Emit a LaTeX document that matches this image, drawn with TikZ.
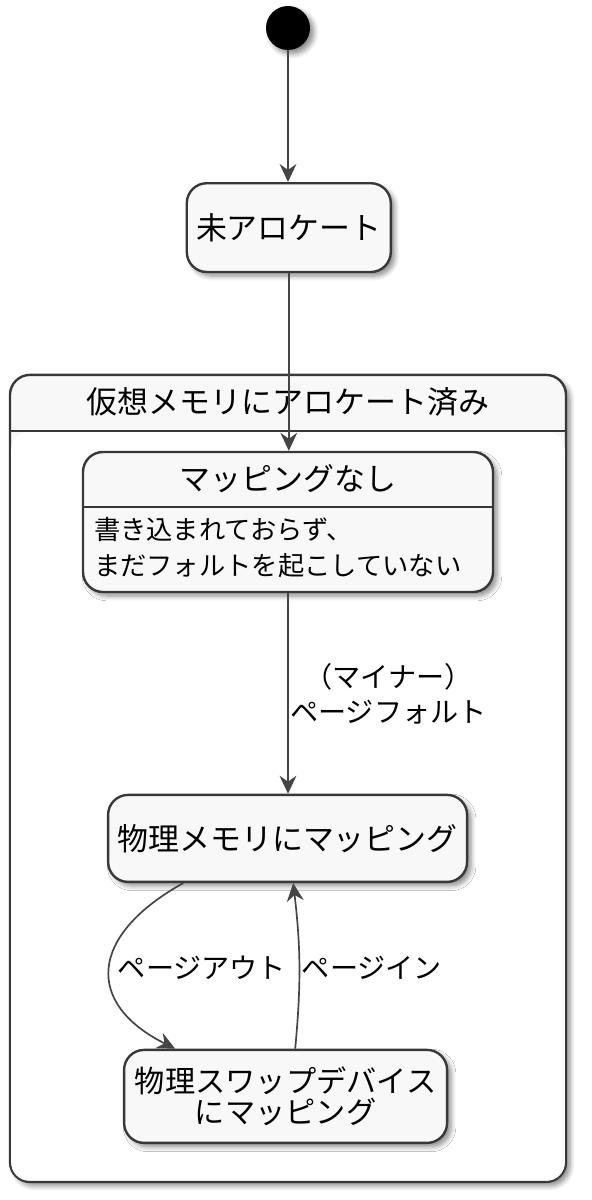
\documentclass[tikz,border=0pt]{standalone}
\usepackage{fontspec}
\setmainfont{Noto Sans CJK JP}
\usetikzlibrary{arrows.meta,shadows.blur,calc}
\definecolor{bordergray}{HTML}{383838}
\definecolor{arrowgray}{HTML}{454545}
\definecolor{boxfill}{HTML}{F8F8F8}

\begin{document}
\begin{tikzpicture}[
    shade/.style={blur shadow={shadow xshift=0.1cm, shadow yshift=-0.1cm, shadow blur radius=0.12cm, shadow blur steps=6, shadow opacity=45}},
    stbox/.style={draw=bordergray, line width=1.7pt, fill=boxfill, rounded corners=0.5cm, shade,
      font=\fontsize{22}{22}\selectfont, align=center, inner sep=0pt},
    edge/.style={draw=arrowgray, line width=1.2pt, -{Stealth[length=0.45cm, width=0.42cm, inset=0.15cm]}},
    lbl/.style={font=\fontsize{20}{25}\selectfont, align=center, inner sep=1pt}
  ]
			\useasboundingbox (0,0) rectangle (14.775,-30);
			% composite state
			\node[stbox, minimum width=13.9cm, minimum height=20.175cm] (alloc) at (7.2,-19.46) {};
			\fill[white, rounded corners=0.45cm] ($(alloc.north west)+(0.06,-1.45)$) rectangle ($(alloc.south east)+(-0.06,0.06)$);
			\draw[bordergray, line width=1.7pt] ($(alloc.north west)+(0,-1.425)$) -- ($(alloc.north east)+(0,-1.425)$);
			\node[font=\fontsize{22}{22}\selectfont] (alloctitle) at ($(alloc.north)+(0,-0.71)$) {仮想メモリにアロケート済み};
			% states
			\node[circle, fill=black, minimum size=1.1cm, inner sep=0pt, shade] (init) at (7.2,-0.7) {};
			\node[stbox, minimum width=5.1cm, minimum height=2.22cm] (unalloc) at (7.22,-5.69) {未アロケート};
			\node[stbox, minimum width=10.25cm, minimum height=3.5cm] (nomap) at (7.2,-13.05) {};
			\draw[bordergray, line width=1.7pt] ($(nomap.north west)+(0,-1.4)$) -- ($(nomap.north east)+(0,-1.4)$);
			\node[font=\fontsize{22}{22}\selectfont] (nomaptitle) at ($(nomap.north)+(0,-0.7)$) {マッピングなし};
			\node[anchor=west, align=left, inner sep=0pt, font=\fontsize{18.7}{25.6}\selectfont] (nomapbody)
			  at ($(nomap.west)+(0.3,-0.65)$) {書き込まれておらず、\\まだフォルトを起こしていない};
			\node[stbox, minimum width=8.975cm, minimum height=2.175cm] (physmem) at (7.19,-20.96) {物理メモリにマッピング};
			\node[stbox, minimum width=8.075cm, minimum height=2.325cm, font=\fontsize{21.5}{22.5}\selectfont] (swap) at (7.14,-27.41) {物理スワップデバイス\\にマッピング};
			% transitions
			\draw[edge] (init) -- (init |- unalloc.north);
			\draw[edge] (unalloc.south) -- (unalloc.south |- nomap.north);
			\draw[edge] (nomap.south) -- (nomap.south |- physmem.north)
			  node[midway, right, lbl] (faultlbl) {（マイナー）\\ページフォルト};
			\draw[edge] ([xshift=-2.61cm]physmem.south) .. controls +(-2.375,-1.325) and +(-2.25,1.125) .. ([xshift=-2.76cm]swap.north);
			\draw[edge] ([xshift=0.24cm]swap.north) to[bend right=6] ([xshift=0.14cm]physmem.south);
			\node[lbl] (outlbl) at (5.05,-24.2) {ページアウト};
			\node[lbl] (inlbl) at (9.3,-24.2) {ページイン};
		\end{tikzpicture}
\end{document}
